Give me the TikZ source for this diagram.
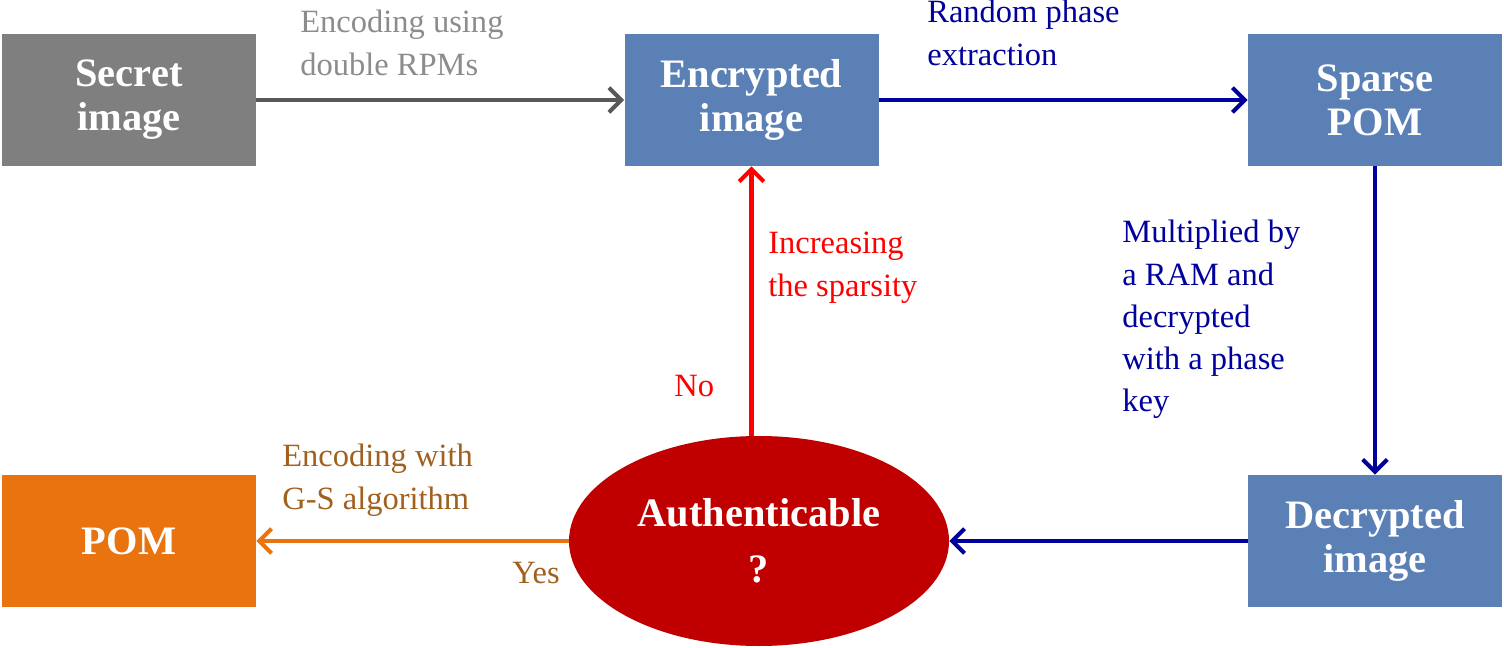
\documentclass[tikz,border=0pt]{standalone}
\usetikzlibrary{arrows.meta,shapes.geometric}
\usepackage{fontspec}
\setmainfont{Liberation Serif}
\definecolor{gbox}{HTML}{7F7F7F}
\definecolor{bbox}{HTML}{5A80B6}
\definecolor{obox}{HTML}{E8730F}
\definecolor{rell}{HTML}{C00000}
\definecolor{navy}{HTML}{00009C}
\definecolor{darkg}{HTML}{595959}
\definecolor{lgray}{HTML}{8C8C8C}
\definecolor{brownl}{HTML}{A0601E}
\begin{document}
\begin{tikzpicture}[x=0.02cm,y=-0.02cm,
  box/.style={minimum width=254*0.02cm,minimum height=132*0.02cm,inner sep=0pt,text=white,font=\fontsize{23}{25}\selectfont\bfseries,align=center},
  conn/.style={line width=2.3pt,-{Straight Barb[length=7pt,width=14pt,line width=2.3pt]}},
  lab/.style={font=\fontsize{18.5}{24}\selectfont,align=left,anchor=north west,inner sep=0pt}]
\useasboundingbox (0,0) rectangle (1504,648);
\node[box,fill=gbox] (sec) at (129,100) {Secret\\image};
\node[box,fill=bbox] (enc) at (751.5,100) {Encrypted\\image};
\node[box,fill=bbox] (spa) at (1375,100) {Sparse\\POM};
\node[box,fill=bbox] (dec) at (1375,541) {Decrypted\\image};
\node[box,fill=obox] (pom) at (129,541) {POM};
\node[ellipse,fill=rell,minimum width=380*0.02cm,minimum height=210*0.02cm,inner sep=0pt,text=white,font=\fontsize{23}{32}\selectfont\bfseries,align=center] (aut) at (759,541) {Authenticable\\?};
\draw[conn,darkg] (sec) -- (enc);
\draw[conn,navy] (enc) -- (spa);
\draw[conn,navy] (spa) -- (dec);
\draw[conn,navy] (dec) -- (aut);
\draw[conn,red] (aut.north -| enc) -- (enc);
\draw[conn,obox] (aut) -- (pom);
\node[lab,text=lgray] at (300,10) {Encoding using\\double RPMs};
\node[lab,text=navy] at (927,0) {Random phase\\extraction};
\node[lab,text=navy] at (1122,220) {Multiplied by\\a RAM and\\decrypted\\with a phase\\key};
\node[lab,text=red] at (768,232) {Increasing\\the sparsity};
\node[lab,text=red] at (674,375) {No};
\node[lab,text=brownl] at (282,444) {Encoding with\\G-S algorithm};
\node[lab,text=brownl] at (512,562) {Yes};
\end{tikzpicture}
\end{document}
